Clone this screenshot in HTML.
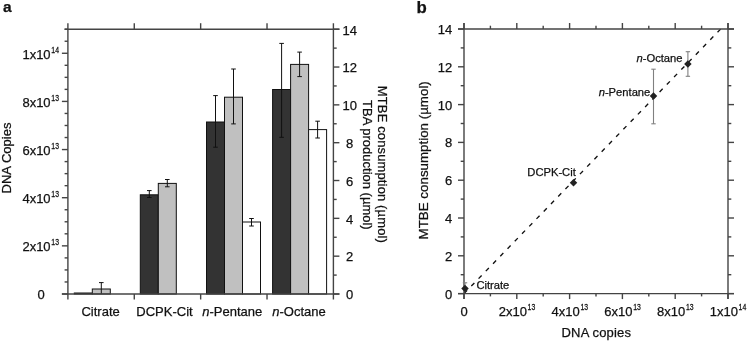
<!DOCTYPE html>
<html><head><meta charset="utf-8"><title>Figure</title>
<style>
html,body{margin:0;padding:0;background:#fff;}
body{width:748px;height:341px;overflow:hidden;}
svg{display:block;}
text{font-family:"Liberation Sans",Arial,sans-serif;fill:#111;stroke:#111;stroke-width:0.25px;}
.t{font-size:13px;}
.s{font-size:8.4px;}
.l{font-size:11.2px;}
.p{font-size:15.5px;font-weight:bold;}
.i{font-style:italic;}
</style></head><body>
<svg width="748" height="341" viewBox="0 0 748 341">
<rect width="748" height="341" fill="#fff"/>

<text class="p" x="2.9" y="12.3">a</text>
<rect x="74.30" y="293.00" width="18" height="1.00" fill="#333333" stroke="#111" stroke-width="1"/>
<rect x="92.30" y="289.00" width="18" height="5.00" fill="#c0c0c0" stroke="#111" stroke-width="1"/>
<line x1="101.30" y1="282.6" x2="101.30" y2="294.0" stroke="#111" stroke-width="1" />
<line x1="99.00" y1="282.6" x2="103.60" y2="282.6" stroke="#111" stroke-width="1" />
<rect x="140.30" y="194.80" width="18" height="99.20" fill="#333333" stroke="#111" stroke-width="1"/>
<line x1="149.30" y1="190.6" x2="149.30" y2="197.5" stroke="#111" stroke-width="1" />
<line x1="147.00" y1="190.6" x2="151.60" y2="190.6" stroke="#111" stroke-width="1" />
<line x1="147.00" y1="197.5" x2="151.60" y2="197.5" stroke="#111" stroke-width="1" />
<rect x="158.30" y="183.40" width="18" height="110.60" fill="#c0c0c0" stroke="#111" stroke-width="1"/>
<line x1="167.30" y1="179.5" x2="167.30" y2="186.8" stroke="#111" stroke-width="1" />
<line x1="165.00" y1="179.5" x2="169.60" y2="179.5" stroke="#111" stroke-width="1" />
<line x1="165.00" y1="186.8" x2="169.60" y2="186.8" stroke="#111" stroke-width="1" />
<rect x="206.50" y="122.00" width="18" height="172.00" fill="#333333" stroke="#111" stroke-width="1"/>
<line x1="215.50" y1="95.6" x2="215.50" y2="147.2" stroke="#111" stroke-width="1" />
<line x1="213.20" y1="95.6" x2="217.80" y2="95.6" stroke="#111" stroke-width="1" />
<line x1="213.20" y1="147.2" x2="217.80" y2="147.2" stroke="#111" stroke-width="1" />
<rect x="224.50" y="97.20" width="18" height="196.80" fill="#c0c0c0" stroke="#111" stroke-width="1"/>
<line x1="233.50" y1="69" x2="233.50" y2="123.9" stroke="#111" stroke-width="1" />
<line x1="231.20" y1="69" x2="235.80" y2="69" stroke="#111" stroke-width="1" />
<line x1="231.20" y1="123.9" x2="235.80" y2="123.9" stroke="#111" stroke-width="1" />
<rect x="242.50" y="222.00" width="18" height="72.00" fill="#ffffff" stroke="#111" stroke-width="1"/>
<line x1="251.50" y1="218.5" x2="251.50" y2="226" stroke="#111" stroke-width="1" />
<line x1="249.20" y1="218.5" x2="253.80" y2="218.5" stroke="#111" stroke-width="1" />
<line x1="249.20" y1="226" x2="253.80" y2="226" stroke="#111" stroke-width="1" />
<rect x="272.60" y="89.50" width="18" height="204.50" fill="#333333" stroke="#111" stroke-width="1"/>
<line x1="281.60" y1="43.4" x2="281.60" y2="137.3" stroke="#111" stroke-width="1" />
<line x1="279.30" y1="43.4" x2="283.90" y2="43.4" stroke="#111" stroke-width="1" />
<line x1="279.30" y1="137.3" x2="283.90" y2="137.3" stroke="#111" stroke-width="1" />
<rect x="290.60" y="64.40" width="18" height="229.60" fill="#c0c0c0" stroke="#111" stroke-width="1"/>
<line x1="299.60" y1="52.1" x2="299.60" y2="76.6" stroke="#111" stroke-width="1" />
<line x1="297.30" y1="52.1" x2="301.90" y2="52.1" stroke="#111" stroke-width="1" />
<line x1="297.30" y1="76.6" x2="301.90" y2="76.6" stroke="#111" stroke-width="1" />
<rect x="308.60" y="129.60" width="18" height="164.40" fill="#ffffff" stroke="#111" stroke-width="1"/>
<line x1="317.60" y1="121.2" x2="317.60" y2="138" stroke="#111" stroke-width="1" />
<line x1="315.30" y1="121.2" x2="319.90" y2="121.2" stroke="#111" stroke-width="1" />
<line x1="315.30" y1="138" x2="319.90" y2="138" stroke="#111" stroke-width="1" />
<line x1="67.9" y1="23.2" x2="67.9" y2="299.5" stroke="#444444" stroke-width="1.4" />
<line x1="333.4" y1="23.2" x2="333.4" y2="299.5" stroke="#444444" stroke-width="1.4" />
<line x1="64.60000000000001" y1="29.2" x2="339.4" y2="29.2" stroke="#444444" stroke-width="1.4" />
<line x1="61.900000000000006" y1="294.0" x2="339.4" y2="294.0" stroke="#444444" stroke-width="1.4" />
<line x1="134.28" y1="23.2" x2="134.28" y2="29.2" stroke="#444444" stroke-width="1.4" />
<line x1="134.28" y1="294.0" x2="134.28" y2="299.5" stroke="#444444" stroke-width="1.4" />
<line x1="200.65" y1="23.2" x2="200.65" y2="29.2" stroke="#444444" stroke-width="1.4" />
<line x1="200.65" y1="294.0" x2="200.65" y2="299.5" stroke="#444444" stroke-width="1.4" />
<line x1="267.02" y1="23.2" x2="267.02" y2="29.2" stroke="#444444" stroke-width="1.4" />
<line x1="267.02" y1="294.0" x2="267.02" y2="299.5" stroke="#444444" stroke-width="1.4" />
<line x1="61.900000000000006" y1="294.00" x2="67.9" y2="294.00" stroke="#444444" stroke-width="1.4" />
<line x1="64.60000000000001" y1="281.96" x2="67.9" y2="281.96" stroke="#444444" stroke-width="1.4" />
<line x1="64.60000000000001" y1="269.93" x2="67.9" y2="269.93" stroke="#444444" stroke-width="1.4" />
<line x1="64.60000000000001" y1="257.89" x2="67.9" y2="257.89" stroke="#444444" stroke-width="1.4" />
<line x1="61.900000000000006" y1="245.85" x2="67.9" y2="245.85" stroke="#444444" stroke-width="1.4" />
<line x1="64.60000000000001" y1="233.82" x2="67.9" y2="233.82" stroke="#444444" stroke-width="1.4" />
<line x1="64.60000000000001" y1="221.78" x2="67.9" y2="221.78" stroke="#444444" stroke-width="1.4" />
<line x1="64.60000000000001" y1="209.75" x2="67.9" y2="209.75" stroke="#444444" stroke-width="1.4" />
<line x1="61.900000000000006" y1="197.71" x2="67.9" y2="197.71" stroke="#444444" stroke-width="1.4" />
<line x1="64.60000000000001" y1="185.67" x2="67.9" y2="185.67" stroke="#444444" stroke-width="1.4" />
<line x1="64.60000000000001" y1="173.64" x2="67.9" y2="173.64" stroke="#444444" stroke-width="1.4" />
<line x1="64.60000000000001" y1="161.60" x2="67.9" y2="161.60" stroke="#444444" stroke-width="1.4" />
<line x1="61.900000000000006" y1="149.56" x2="67.9" y2="149.56" stroke="#444444" stroke-width="1.4" />
<line x1="64.60000000000001" y1="137.53" x2="67.9" y2="137.53" stroke="#444444" stroke-width="1.4" />
<line x1="64.60000000000001" y1="125.49" x2="67.9" y2="125.49" stroke="#444444" stroke-width="1.4" />
<line x1="64.60000000000001" y1="113.45" x2="67.9" y2="113.45" stroke="#444444" stroke-width="1.4" />
<line x1="61.900000000000006" y1="101.42" x2="67.9" y2="101.42" stroke="#444444" stroke-width="1.4" />
<line x1="64.60000000000001" y1="89.38" x2="67.9" y2="89.38" stroke="#444444" stroke-width="1.4" />
<line x1="64.60000000000001" y1="77.35" x2="67.9" y2="77.35" stroke="#444444" stroke-width="1.4" />
<line x1="64.60000000000001" y1="65.31" x2="67.9" y2="65.31" stroke="#444444" stroke-width="1.4" />
<line x1="61.900000000000006" y1="53.27" x2="67.9" y2="53.27" stroke="#444444" stroke-width="1.4" />
<line x1="64.60000000000001" y1="41.24" x2="67.9" y2="41.24" stroke="#444444" stroke-width="1.4" />
<line x1="64.60000000000001" y1="29.20" x2="67.9" y2="29.20" stroke="#444444" stroke-width="1.4" />
<line x1="333.4" y1="294.00" x2="339.4" y2="294.00" stroke="#444444" stroke-width="1.4" />
<line x1="333.4" y1="275.09" x2="336.7" y2="275.09" stroke="#444444" stroke-width="1.4" />
<line x1="333.4" y1="256.17" x2="339.4" y2="256.17" stroke="#444444" stroke-width="1.4" />
<line x1="333.4" y1="237.26" x2="336.7" y2="237.26" stroke="#444444" stroke-width="1.4" />
<line x1="333.4" y1="218.34" x2="339.4" y2="218.34" stroke="#444444" stroke-width="1.4" />
<line x1="333.4" y1="199.43" x2="336.7" y2="199.43" stroke="#444444" stroke-width="1.4" />
<line x1="333.4" y1="180.51" x2="339.4" y2="180.51" stroke="#444444" stroke-width="1.4" />
<line x1="333.4" y1="161.60" x2="336.7" y2="161.60" stroke="#444444" stroke-width="1.4" />
<line x1="333.4" y1="142.69" x2="339.4" y2="142.69" stroke="#444444" stroke-width="1.4" />
<line x1="333.4" y1="123.77" x2="336.7" y2="123.77" stroke="#444444" stroke-width="1.4" />
<line x1="333.4" y1="104.86" x2="339.4" y2="104.86" stroke="#444444" stroke-width="1.4" />
<line x1="333.4" y1="85.94" x2="336.7" y2="85.94" stroke="#444444" stroke-width="1.4" />
<line x1="333.4" y1="67.03" x2="339.4" y2="67.03" stroke="#444444" stroke-width="1.4" />
<line x1="333.4" y1="48.11" x2="336.7" y2="48.11" stroke="#444444" stroke-width="1.4" />
<line x1="333.4" y1="29.20" x2="339.4" y2="29.20" stroke="#444444" stroke-width="1.4" />
<text class="t" x="41" y="299.40" text-anchor="middle">0</text>
<text class="t" x="22.42" y="251.30" style="letter-spacing:0.0px">2x10</text><text class="s" transform="translate(51.31,245.20) scale(0.82,1)">13</text>
<text class="t" x="22.42" y="203.16" style="letter-spacing:0.0px">4x10</text><text class="s" transform="translate(51.31,197.06) scale(0.82,1)">13</text>
<text class="t" x="22.42" y="155.01" style="letter-spacing:0.0px">6x10</text><text class="s" transform="translate(51.31,148.91) scale(0.82,1)">13</text>
<text class="t" x="22.42" y="106.87" style="letter-spacing:0.0px">8x10</text><text class="s" transform="translate(51.31,100.77) scale(0.82,1)">13</text>
<text class="t" x="22.42" y="58.72" style="letter-spacing:0.0px">1x10</text><text class="s" transform="translate(51.31,52.62) scale(0.82,1)">14</text>
<text class="t" x="349.7" y="299.30" text-anchor="middle">0</text>
<text class="t" x="349.7" y="261.47" text-anchor="middle">2</text>
<text class="t" x="349.7" y="223.64" text-anchor="middle">4</text>
<text class="t" x="349.7" y="185.81" text-anchor="middle">6</text>
<text class="t" x="349.7" y="147.99" text-anchor="middle">8</text>
<text class="t" x="349.7" y="110.16" text-anchor="middle">10</text>
<text class="t" x="349.7" y="72.33" text-anchor="middle">12</text>
<text class="t" x="349.7" y="34.50" text-anchor="middle">14</text>
<text class="t" x="100.60" y="316.3" text-anchor="middle">Citrate</text>
<text class="t" x="164.50" y="316.3" text-anchor="middle">DCPK-Cit</text>
<text class="t" x="232.20" y="316.3" text-anchor="middle"><tspan class="i">n</tspan>-Pentane</text>
<text class="t" x="299.00" y="316.3" text-anchor="middle"><tspan class="i">n</tspan>-Octane</text>
<text class="t" transform="translate(10.8,158) rotate(-90)" text-anchor="middle">DNA Copies</text>
<text class="t" style="letter-spacing:0.13px" transform="translate(378.3,164.4) rotate(90)" text-anchor="middle">MTBE consumption (µmol)</text>
<text class="t" transform="translate(362.8,164.9) rotate(90)" text-anchor="middle">TBA production (µmol)</text>
<text class="p" style="font-size:16.8px" x="416.4" y="12.7">b</text>
<line x1="464" y1="293.6" x2="720.7" y2="29" stroke="#111" stroke-width="1.35" stroke-dasharray="4.4 6.0" stroke-dashoffset="-0.1"/>
<line x1="464" y1="23" x2="464" y2="299.1" stroke="#444444" stroke-width="1.4" />
<line x1="728" y1="23" x2="728" y2="299.1" stroke="#444444" stroke-width="1.4" />
<line x1="458" y1="29" x2="734" y2="29" stroke="#444444" stroke-width="1.4" />
<line x1="458" y1="293.6" x2="734" y2="293.6" stroke="#444444" stroke-width="1.4" />
<line x1="464.00" y1="23" x2="464.00" y2="29" stroke="#444444" stroke-width="1.4" />
<line x1="464.00" y1="293.6" x2="464.00" y2="299.1" stroke="#444444" stroke-width="1.4" />
<line x1="490.40" y1="25.7" x2="490.40" y2="29" stroke="#444444" stroke-width="1.4" />
<line x1="490.40" y1="293.6" x2="490.40" y2="296.40000000000003" stroke="#444444" stroke-width="1.4" />
<line x1="516.80" y1="23" x2="516.80" y2="29" stroke="#444444" stroke-width="1.4" />
<line x1="516.80" y1="293.6" x2="516.80" y2="299.1" stroke="#444444" stroke-width="1.4" />
<line x1="543.20" y1="25.7" x2="543.20" y2="29" stroke="#444444" stroke-width="1.4" />
<line x1="543.20" y1="293.6" x2="543.20" y2="296.40000000000003" stroke="#444444" stroke-width="1.4" />
<line x1="569.60" y1="23" x2="569.60" y2="29" stroke="#444444" stroke-width="1.4" />
<line x1="569.60" y1="293.6" x2="569.60" y2="299.1" stroke="#444444" stroke-width="1.4" />
<line x1="596.00" y1="25.7" x2="596.00" y2="29" stroke="#444444" stroke-width="1.4" />
<line x1="596.00" y1="293.6" x2="596.00" y2="296.40000000000003" stroke="#444444" stroke-width="1.4" />
<line x1="622.40" y1="23" x2="622.40" y2="29" stroke="#444444" stroke-width="1.4" />
<line x1="622.40" y1="293.6" x2="622.40" y2="299.1" stroke="#444444" stroke-width="1.4" />
<line x1="648.80" y1="25.7" x2="648.80" y2="29" stroke="#444444" stroke-width="1.4" />
<line x1="648.80" y1="293.6" x2="648.80" y2="296.40000000000003" stroke="#444444" stroke-width="1.4" />
<line x1="675.20" y1="23" x2="675.20" y2="29" stroke="#444444" stroke-width="1.4" />
<line x1="675.20" y1="293.6" x2="675.20" y2="299.1" stroke="#444444" stroke-width="1.4" />
<line x1="701.60" y1="25.7" x2="701.60" y2="29" stroke="#444444" stroke-width="1.4" />
<line x1="701.60" y1="293.6" x2="701.60" y2="296.40000000000003" stroke="#444444" stroke-width="1.4" />
<line x1="728.00" y1="23" x2="728.00" y2="29" stroke="#444444" stroke-width="1.4" />
<line x1="728.00" y1="293.6" x2="728.00" y2="299.1" stroke="#444444" stroke-width="1.4" />
<line x1="458" y1="293.60" x2="464" y2="293.60" stroke="#444444" stroke-width="1.4" />
<line x1="728" y1="293.60" x2="734" y2="293.60" stroke="#444444" stroke-width="1.4" />
<line x1="460.7" y1="274.70" x2="464" y2="274.70" stroke="#444444" stroke-width="1.4" />
<line x1="728" y1="274.70" x2="731.3" y2="274.70" stroke="#444444" stroke-width="1.4" />
<line x1="458" y1="255.80" x2="464" y2="255.80" stroke="#444444" stroke-width="1.4" />
<line x1="728" y1="255.80" x2="734" y2="255.80" stroke="#444444" stroke-width="1.4" />
<line x1="460.7" y1="236.90" x2="464" y2="236.90" stroke="#444444" stroke-width="1.4" />
<line x1="728" y1="236.90" x2="731.3" y2="236.90" stroke="#444444" stroke-width="1.4" />
<line x1="458" y1="218.00" x2="464" y2="218.00" stroke="#444444" stroke-width="1.4" />
<line x1="728" y1="218.00" x2="734" y2="218.00" stroke="#444444" stroke-width="1.4" />
<line x1="460.7" y1="199.10" x2="464" y2="199.10" stroke="#444444" stroke-width="1.4" />
<line x1="728" y1="199.10" x2="731.3" y2="199.10" stroke="#444444" stroke-width="1.4" />
<line x1="458" y1="180.20" x2="464" y2="180.20" stroke="#444444" stroke-width="1.4" />
<line x1="728" y1="180.20" x2="734" y2="180.20" stroke="#444444" stroke-width="1.4" />
<line x1="460.7" y1="161.30" x2="464" y2="161.30" stroke="#444444" stroke-width="1.4" />
<line x1="728" y1="161.30" x2="731.3" y2="161.30" stroke="#444444" stroke-width="1.4" />
<line x1="458" y1="142.40" x2="464" y2="142.40" stroke="#444444" stroke-width="1.4" />
<line x1="728" y1="142.40" x2="734" y2="142.40" stroke="#444444" stroke-width="1.4" />
<line x1="460.7" y1="123.50" x2="464" y2="123.50" stroke="#444444" stroke-width="1.4" />
<line x1="728" y1="123.50" x2="731.3" y2="123.50" stroke="#444444" stroke-width="1.4" />
<line x1="458" y1="104.60" x2="464" y2="104.60" stroke="#444444" stroke-width="1.4" />
<line x1="728" y1="104.60" x2="734" y2="104.60" stroke="#444444" stroke-width="1.4" />
<line x1="460.7" y1="85.70" x2="464" y2="85.70" stroke="#444444" stroke-width="1.4" />
<line x1="728" y1="85.70" x2="731.3" y2="85.70" stroke="#444444" stroke-width="1.4" />
<line x1="458" y1="66.80" x2="464" y2="66.80" stroke="#444444" stroke-width="1.4" />
<line x1="728" y1="66.80" x2="734" y2="66.80" stroke="#444444" stroke-width="1.4" />
<line x1="460.7" y1="47.90" x2="464" y2="47.90" stroke="#444444" stroke-width="1.4" />
<line x1="728" y1="47.90" x2="731.3" y2="47.90" stroke="#444444" stroke-width="1.4" />
<line x1="458" y1="29.00" x2="464" y2="29.00" stroke="#444444" stroke-width="1.4" />
<line x1="728" y1="29.00" x2="734" y2="29.00" stroke="#444444" stroke-width="1.4" />
<text class="t" x="452.3" y="298.60" text-anchor="end">0</text>
<text class="t" x="452.3" y="260.80" text-anchor="end">2</text>
<text class="t" x="452.3" y="223.00" text-anchor="end">4</text>
<text class="t" x="452.3" y="185.20" text-anchor="end">6</text>
<text class="t" x="452.3" y="147.40" text-anchor="end">8</text>
<text class="t" x="452.3" y="109.60" text-anchor="end">10</text>
<text class="t" x="452.3" y="71.80" text-anchor="end">12</text>
<text class="t" x="452.3" y="34.00" text-anchor="end">14</text>
<text class="t" x="464" y="315.8" text-anchor="middle">0</text>
<text class="t" x="498.72" y="315.80" style="letter-spacing:0.0px">2x10</text><text class="s" transform="translate(527.61,309.70) scale(0.82,1)">13</text>
<text class="t" x="551.52" y="315.80" style="letter-spacing:0.0px">4x10</text><text class="s" transform="translate(580.41,309.70) scale(0.82,1)">13</text>
<text class="t" x="604.32" y="315.80" style="letter-spacing:0.0px">6x10</text><text class="s" transform="translate(633.21,309.70) scale(0.82,1)">13</text>
<text class="t" x="657.12" y="315.80" style="letter-spacing:0.0px">8x10</text><text class="s" transform="translate(686.01,309.70) scale(0.82,1)">13</text>
<text class="t" x="709.72" y="315.80" style="letter-spacing:0.0px">1x10</text><text class="s" transform="translate(738.61,309.70) scale(0.82,1)">14</text>
<text class="t" x="596.3" y="336.5" text-anchor="middle" style="letter-spacing:0.16px">DNA copies</text>
<text class="t" style="font-size:13.35px" transform="translate(428.1,160.3) rotate(-90)" text-anchor="middle">MTBE consumption (µmol)</text>
<line x1="465" y1="282.8" x2="465" y2="288.6" stroke="#808080" stroke-width="1.1" />
<line x1="462.8" y1="282.8" x2="467.2" y2="282.8" stroke="#808080" stroke-width="1.1" />
<polygon points="461.25,288.6 465,284.85 468.75,288.6 465,292.35" fill="#222"/>
<text class="l" x="476.4" y="288.5" text-anchor="start">Citrate</text>
<polygon points="569.75,182.8 573.5,179.05 577.25,182.8 573.5,186.55" fill="#222"/>
<text class="l" x="575.8" y="175.5" text-anchor="end">DCPK-Cit</text>
<line x1="653.5" y1="69.2" x2="653.5" y2="123.8" stroke="#808080" stroke-width="1.1" />
<line x1="651.3" y1="69.2" x2="655.7" y2="69.2" stroke="#808080" stroke-width="1.1" />
<line x1="651.3" y1="123.8" x2="655.7" y2="123.8" stroke="#808080" stroke-width="1.1" />
<polygon points="649.75,96 653.5,92.25 657.25,96 653.5,99.75" fill="#222"/>
<text class="l" x="650.3" y="95.5" text-anchor="end"><tspan class="i">n</tspan>-Pentane</text>
<line x1="687.9" y1="51.7" x2="687.9" y2="76.3" stroke="#808080" stroke-width="1.1" />
<line x1="685.6999999999999" y1="51.7" x2="690.1" y2="51.7" stroke="#808080" stroke-width="1.1" />
<line x1="685.6999999999999" y1="76.3" x2="690.1" y2="76.3" stroke="#808080" stroke-width="1.1" />
<polygon points="684.15,64 687.9,60.25 691.65,64 687.9,67.75" fill="#222"/>
<text class="l" x="682.5" y="62" text-anchor="end"><tspan class="i">n</tspan>-Octane</text>
</svg></body></html>
